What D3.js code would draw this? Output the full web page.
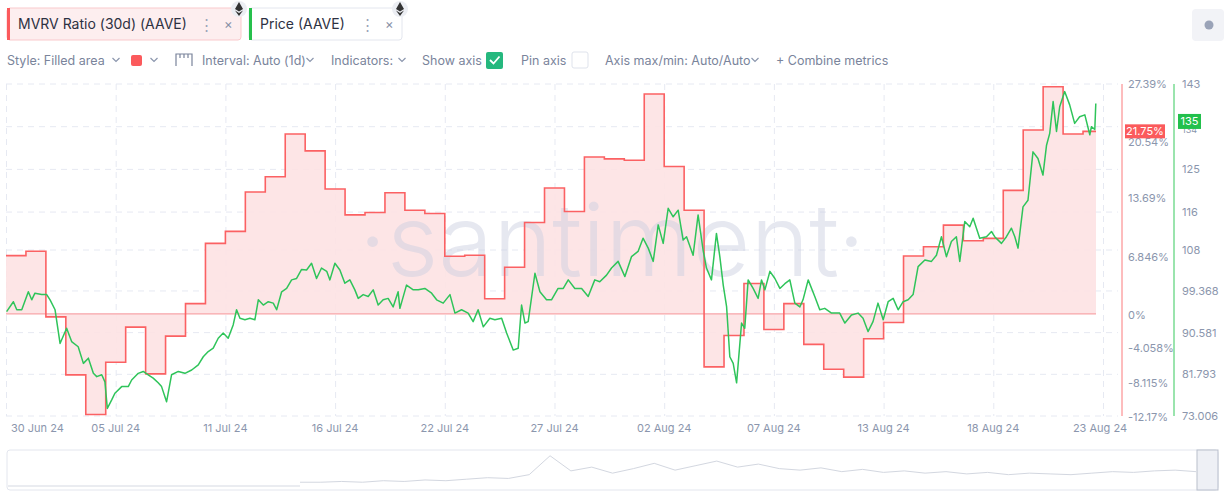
<!DOCTYPE html>
<html><head><meta charset="utf-8">
<script src="https://cdn.jsdelivr.net/npm/d3@7"></script>
<style>
body{margin:0;background:#fff;font-family:Inter,"Open Sans",sans-serif;}
svg text{font-family:Inter,"Open Sans",sans-serif;}
</style></head><body>
<svg id="c" width="1224" height="493"></svg>
<script>
// MVRV (30d) daily values, % (day index 0..54)
const mvrv = [6.94,7.46,-0.36,-7.27,-12.0,-5.77,-1.58,-7.15,-2.65,1.22,8.4,9.83,14.52,16.34,21.43,19.42,14.87,11.79,12.08,14.44,
12.35,11.96,6.87,6.99,1.81,5.56,10.89,14.99,12.2,18.7,18.47,18.3,26.2,17.56,12.35,-6.32,-2.57,3.62,-1.86,1.22,
-3.63,-6.6,-7.54,-2.96,-1.03,6.9,8.0,10.57,8.71,9.0,14.72,21.9,27.07,21.43,21.75];
// Price (AAVE): time in days since first day, and price
const priceDay = [0.03,0.37,0.54,0.79,1.12,1.29,1.45,1.79,2.04,2.21,2.46,2.71,3.04,3.29,3.62,3.88,4.13,4.38,4.55,4.80,4.96,5.08,5.30,5.46,5.80,6.13,6.30,6.63,6.88,7.13,7.38,7.63,7.80,8.05,8.30,8.64,8.97,9.31,9.64,9.89,10.14,10.39,10.64,10.89,11.14,11.39,11.56,11.73,11.98,12.23,12.48,12.65,12.90,13.15,13.40,13.57,13.82,14.07,14.32,14.57,14.82,15.07,15.32,15.57,15.82,16.08,16.24,16.49,16.74,16.99,17.24,17.49,17.66,17.91,18.16,18.41,18.66,18.91,19.16,19.41,19.66,
19.75,20.08,20.42,20.67,21.0,21.34,21.59,21.92,22.26,22.51,22.84,23.17,23.42,23.67,23.93,24.26,24.51,24.85,25.10,25.43,25.68,25.85,26.02,26.18,26.52,26.77,27.10,27.35,27.68,27.94,28.19,28.52,28.86,29.19,29.52,29.77,30.11,30.36,30.69,31.03,31.36,31.69,31.94,32.20,32.45,32.70,32.95,33.20,33.45,33.70,33.95,34.12,34.45,34.70,34.95,35.12,35.37,35.62,35.79,35.96,36.13,36.29,36.46,36.63,36.88,
37.04,37.21,37.46,37.71,37.88,38.05,38.30,38.55,38.80,39.05,39.30,39.55,39.80,39.96,40.22,40.55,40.80,41.05,41.39,41.80,42.06,42.39,42.72,42.97,43.22,43.47,43.72,43.98,44.23,44.48,44.73,44.98,45.23,45.48,45.73,46.07,46.40,46.65,46.90,47.15,47.40,47.65,47.82,48.07,48.32,48.49,48.82,49.16,49.41,49.57,49.91,50.16,50.41,50.58,50.74,50.99,51.24,51.49,51.74,51.99,52.17,52.33,52.50,52.67,52.83,53.08,53.33,53.58,53.83,54.09,54.34,54.42,54.59,54.64];
const price = [95.0,97.1,95.4,95.4,99.2,97.5,98.9,98.6,98.6,97.5,95.4,88.3,91.5,88.7,87.6,84.1,85.2,82.0,81.3,81.7,80.2,74.6,76.4,77.8,79.2,79.2,80.6,82.0,82.4,81.7,81.0,80.0,79.2,76.0,81.7,82.4,82.0,82.7,83.8,85.5,86.6,87.3,89.4,90.5,89.4,92.2,95.4,93.6,93.3,93.6,93.3,97.5,96.4,97.1,96.8,95.4,99.2,99.9,101.7,102.0,103.9,103.8,105.2,102.0,104.2,103.5,101.7,105.2,103.8,101.0,101.7,99.6,97.8,98.6,98.2,99.6,96.4,97.5,97.8,96.0,99.2,
95.7,100.6,99.6,99.6,99.9,98.9,97.5,96.8,98.6,94.7,95.4,94.7,92.9,95.4,91.8,93.6,93.3,93.6,90.5,86.9,87.3,96.4,92.6,92.9,103.1,99.2,97.5,97.5,99.9,99.9,101.7,99.9,99.9,98.2,101.7,101.3,102.7,104.2,105.6,102.4,106.6,107.7,110.5,108.4,105.6,113.3,109.4,116.8,115.0,116.4,110.1,110.8,106.9,115.4,108.0,104.2,101.7,111.5,106.6,100.6,96.0,85.5,84.1,80.0,92.6,91.5,
101.7,99.9,97.8,101.7,99.6,103.5,102.0,99.9,100.9,101.7,96.8,96.0,97.5,101.7,98.2,95.4,95.7,94.7,94.7,92.6,94.3,94.7,93.6,90.8,92.9,96.8,93.3,97.1,97.8,95.4,97.1,97.5,98.6,104.5,105.9,105.6,106.9,110.8,106.6,109.8,110.8,105.6,114.0,112.9,114.7,110.5,110.8,111.9,110.8,109.4,110.8,112.6,110.8,108.4,117.1,118.5,128.7,127.3,123.8,130.1,132.6,139.3,133.0,138.2,141.4,138.6,134.7,136.1,136.5,132.3,134.0,133.4,138.9,135.8];
const dateLabels = ["30 Jun 24","05 Jul 24","11 Jul 24","16 Jul 24","22 Jul 24","27 Jul 24","02 Aug 24","07 Aug 24","13 Aug 24","18 Aug 24","23 Aug 24"];
const mvrvTickLabels = ["27.39%","20.54%","13.69%","6.846%","0%","-4.058%","-8.115%","-12.17%"];
const priceTicks = [143,134,125,116,108,99.368,90.581,81.793,73.006];
// navigator (long history) rough shape
const navPrice = [60,60,61,60,62,61,63,62,64,66,65,70,95,75,80,72,78,85,76,82,88,80,84,78,76,79,74,77,73,75,72,74,71,73,70,72,71,70,72,74,73,75,76,74];

const svg = d3.select("#c");
const L=6, R=1096, T=84, B=416;
const x = d3.scaleLinear().domain([0,54.65]).range([L,R]);
const yM = d3.scaleLinear().domain([-12.17,27.39]).range([B,T]);
const yP = d3.scaleLinear().domain([73.006,143]).range([B,T]);
const grey="#8b96ad";

// gridlines
svg.append("g").selectAll("line").data(priceTicks).join("line")
 .attr("x1",L).attr("x2",1118).attr("y1",d=>yP(d)).attr("y2",d=>yP(d))
 .attr("stroke","#e6e9f2").attr("stroke-dasharray","6,5");
const vg = d3.range(0,11).map(k=>k*5.5);
svg.append("g").selectAll("line").data(vg).join("line")
 .attr("x1",d=>x(d)+0.5).attr("x2",d=>x(d)+0.5).attr("y1",T).attr("y2",B)
 .attr("stroke","#e6e9f2").attr("stroke-dasharray","6,5");

// MVRV area
const md = mvrv.map((v,i)=>({t:i,v})); md.push({t:54.65,v:mvrv[mvrv.length-1]});
svg.append("path").datum(md).attr("d",d3.area().curve(d3.curveStepAfter).x(d=>x(d.t)).y0(yM(0)).y1(d=>yM(d.v)))
 .attr("fill","#fde2e3").attr("opacity",0.9);

// watermark
svg.append("text").attr("x",612).attr("y",276).attr("text-anchor","middle")
 .attr("font-size",100).attr("fill","#c9cde0").attr("opacity",0.45).attr("font-weight",300).text("·santiment·");

svg.append("line").attr("x1",L).attr("x2",R).attr("y1",yM(0)).attr("y2",yM(0)).attr("stroke","#f7a5a8").attr("stroke-width",1.2);
svg.append("path").datum(md).attr("d",d3.line().curve(d3.curveStepAfter).x(d=>x(d.t)).y(d=>yM(d.v)))
 .attr("fill","none").attr("stroke","#fb6163").attr("stroke-width",1.6);

// price line
const pd = price.map((p,i)=>({t:priceDay[i],p}));
svg.append("path").datum(pd).attr("d",d3.line().x(d=>x(d.t)).y(d=>yP(d.p)))
 .attr("fill","none").attr("stroke","#2fc45a").attr("stroke-width",1.5).attr("stroke-linejoin","round");

// axes lines
svg.append("line").attr("x1",1122).attr("x2",1122).attr("y1",T).attr("y2",B).attr("stroke","#fb7a7c");
svg.append("line").attr("x1",1174).attr("x2",1174).attr("y1",T).attr("y2",B).attr("stroke","#36c95d");
const labY = [84,141.5,198,256.5,315,348,383,416.5];
svg.append("g").selectAll("text").data(mvrvTickLabels).join("text")
 .attr("x",1128).attr("y",(d,i)=>labY[i]+4).attr("font-size",11).attr("fill",grey).text(d=>d);
svg.append("g").selectAll("text").data(priceTicks).join("text")
 .attr("x",1182).attr("y",d=>yP(d)+(d===134?6:4)).attr("font-size",d=>d===134?9:11).attr("fill",grey).text(d=>String(d));
// current value tags
svg.append("rect").attr("x",1125).attr("y",yM(21.75)-7).attr("width",40).attr("height",14).attr("fill","#fb5a5c");
svg.append("text").attr("x",1145).attr("y",yM(21.75)+4).attr("text-anchor","middle").attr("font-size",11).attr("fill","#fff").text("21.75%");
svg.append("rect").attr("x",1178).attr("y",yP(135)-8).attr("width",23).attr("height",15).attr("fill","#22c04c");
svg.append("text").attr("x",1189.5).attr("y",yP(135)+3.5).attr("text-anchor","middle").attr("font-size",11).attr("fill","#fff").text("135");

// x labels
svg.append("g").selectAll("text").data(dateLabels).join("text")
 .attr("x",(d,i)=> i===0? 11 : i===10 ? x(vg[i])-3 : x(vg[i]))
 .attr("y",432).attr("font-size",11).attr("fill",grey)
 .attr("text-anchor",(d,i)=>i===0?"start":"middle").text(d=>d);

// header chips
function chip(x0,w,label,bg,border,accent){
 svg.append("rect").attr("x",x0).attr("y",8).attr("width",w).attr("height",32).attr("rx",3).attr("fill",bg).attr("stroke",border);
 svg.append("rect").attr("x",x0).attr("y",8).attr("width",3).attr("height",32).attr("fill",accent);
 svg.append("text").attr("x",x0+11).attr("y",29).attr("font-size",14).attr("fill","#2d3142").text(label);
 svg.append("text").attr("x",x0+w-42).attr("y",30).attr("font-size",15).attr("fill","#9aa3b8").text("⋮");
 svg.append("text").attr("x",x0+w-17).attr("y",29).attr("font-size",13).attr("fill","#8790a6").text("×");
 svg.append("circle").attr("cx",x0+w-2).attr("cy",9).attr("r",8).attr("fill","#eceef3");
 svg.append("path").attr("d",`M${x0+w-2},2 l-4,7 l4,2.5 l4,-2.5 z M${x0+w-6},10.5 l4,5.5 l4,-5.5 l-4,2.5 z`).attr("fill","#333");
}
chip(7,234,"MVRV Ratio (30d) (AAVE)","#fdeeef","#f9c9cc","#fb5a5c");
chip(249,153,"Price (AAVE)","#fff","#e3e6ee","#26c04c");
svg.append("rect").attr("x",1192).attr("y",9).attr("width",32).attr("height",32).attr("rx",4).attr("fill","#f2f3f7");
svg.append("circle").attr("cx",1209).attr("cy",25).attr("r",4.5).attr("fill","#9aa3b8");

// toolbar
const tb = svg.append("g").attr("font-size",12.5).attr("fill","#7a849b");
function chev(cx){tb.append("path").attr("d",`M${cx-3.5},58 l3.5,3.5 l3.5,-3.5`).attr("stroke","#8b96ad").attr("stroke-width",1.2).attr("fill","none");}
tb.append("text").attr("x",7).attr("y",65).text("Style: Filled area");
chev(116);
tb.append("rect").attr("x",131).attr("y",55).attr("width",11).attr("height",11).attr("rx",2).attr("fill","#fb5a5c");
chev(154);
tb.append("path").attr("d","M176,66 v-12 h16 v12 M180,54 v4 M184,54 v4 M188,54 v4").attr("fill","none").attr("stroke","#7a849b").attr("stroke-width",1.2);
tb.append("text").attr("x",202).attr("y",65).text("Interval: Auto (1d)");
chev(310);
tb.append("text").attr("x",331).attr("y",65).text("Indicators:");
chev(402);
tb.append("text").attr("x",422).attr("y",65).text("Show axis");
tb.append("rect").attr("x",486).attr("y",52).attr("width",17).attr("height",17).attr("rx",2).attr("fill","#25b87e");
tb.append("path").attr("d","M490,60 l3.5,3.5 l6,-7").attr("stroke","#fff").attr("stroke-width",1.8).attr("fill","none");
tb.append("text").attr("x",521).attr("y",65).text("Pin axis");
tb.append("rect").attr("x",572).attr("y",52).attr("width",16).attr("height",16).attr("rx",2).attr("fill","#fff").attr("stroke","#dfe3ec");
tb.append("text").attr("x",605).attr("y",65).text("Axis max/min: Auto/Auto");
chev(755);
tb.append("text").attr("x",776).attr("y",65).text("+  Combine metrics");

// navigator
svg.append("rect").attr("x",7).attr("y",450).attr("width",1211).attr("height",40).attr("rx",3).attr("fill","#fff").attr("stroke","#e3e6ee");
const nx = d3.scaleLinear().domain([0,navPrice.length-1]).range([300,1196]);
const ny = d3.scaleLinear().domain([55,100]).range([486,452]);
svg.append("line").attr("x1",8).attr("x2",300).attr("y1",486).attr("y2",486).attr("stroke","#d5d9e2");
svg.append("path").datum(navPrice).attr("d",d3.line().x((d,i)=>nx(i)).y(d=>ny(d))).attr("fill","none").attr("stroke","#d3d7e0");
svg.append("rect").attr("x",1197).attr("y",450).attr("width",21).attr("height",40).attr("fill","#eef0f5").attr("stroke","#b9bfcc");
</script></body></html>
